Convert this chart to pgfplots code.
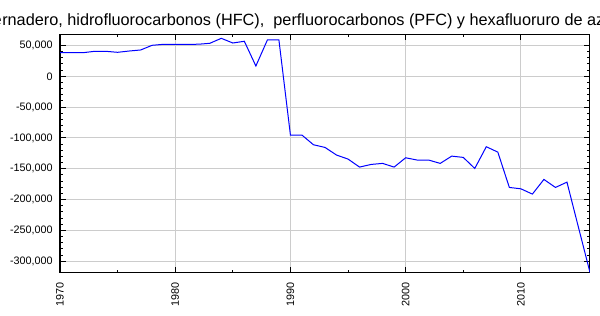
\documentclass[border=0pt]{standalone}
\usepackage{pgfplots}
\pgfplotsset{compat=1.18}
\usepackage{fontspec}
\setmainfont{Liberation Sans}
\begin{document}
\begin{tikzpicture}
\clip (0,0) rectangle (450pt,236.25pt);
\begin{axis}[
  at={(45pt,31.7pt)}, anchor=south west,
  scale only axis, width=397.5pt, height=179pt,
  xmin=1970, xmax=2016, ymin=-318500, ymax=68500,
  xtick={1970,1980,1990,2000,2010},
  xticklabels={1970,1980,1990,2000,2010},
  minor x tick num=1,
  ytick={-300000,-250000,-200000,-150000,-100000,-50000,0,50000},
  minor y tick num=4,
  scaled y ticks=false,
  tick align=inside, tick pos=both,
  major tick length=4.5pt, minor tick length=2.25pt,
  every tick/.style={black, line width=0.75pt},
  axis line style={black, line width=0.75pt},
  grid=major,
  major grid style={color={rgb,255:red,204;green,204;blue,204}, line width=0.75pt},
  /pgf/number format/.cd, fixed, 1000 sep={,}, assume math mode=true,
  /pgfplots/.cd,
  tick label style={font=\fontsize{8.1pt}{9pt}\selectfont, black},
  yticklabel style={inner sep=0pt, anchor=east},
  yticklabel shift=5.25pt,
  xticklabel style={rotate=90, anchor=east, inner sep=0pt},
  xticklabel shift=6.75pt,
]
\addplot[color={rgb,255:red,0;green,0;blue,255}, line width=0.75pt, mark=none] table {
1970 38300
1971 38300
1972 38300
1973 40500
1974 40500
1975 38900
1976 41000
1977 42700
1978 50300
1979 51900
1980 51900
1981 51900
1982 52000
1983 53500
1984 61600
1985 54000
1986 56800
1987 16700
1988 58900
1989 58900
1990 -95300
1991 -95300
1992 -111000
1993 -115300
1994 -127700
1995 -134200
1996 -147200
1997 -142900
1998 -141200
1999 -147200
2000 -132100
2001 -135800
2002 -135800
2003 -141200
2004 -129400
2005 -131500
2006 -149400
2007 -114200
2008 -122900
2009 -180200
2010 -182400
2011 -191000
2012 -167200
2013 -180200
2014 -171600
2015 -245000
2016 -318000
};
\end{axis}
\node[anchor=base west, inner sep=0pt, font=\fontsize{12.2pt}{14pt}\selectfont] at (1.5pt,217.5pt) {rnadero, hidrofluorocarbonos (HFC),\ \ perfluorocarbonos (PFC) y hexafluoruro de azufre (SF6)};
\node[anchor=base east, inner sep=0pt, font=\fontsize{12.2pt}{14pt}\selectfont] at (1.5pt,217.5pt) {Emisiones de gases de efecto inve};
\end{tikzpicture}
\end{document}
